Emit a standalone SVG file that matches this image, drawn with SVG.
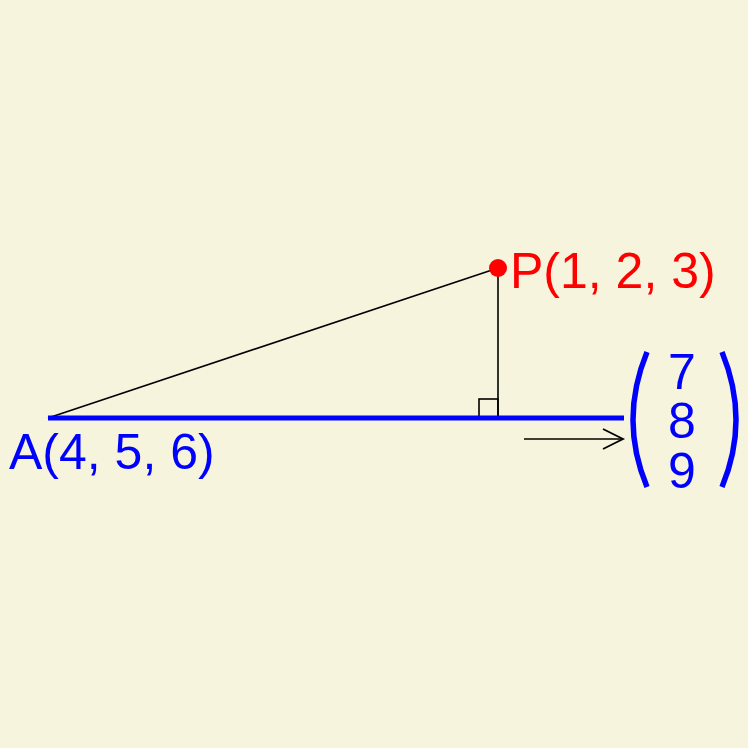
<svg xmlns="http://www.w3.org/2000/svg" width="748" height="748" viewBox="0 0 748 748">
<style>
.thin{stroke:#000;stroke-width:1.6;fill:none}
.blue{stroke:#0000ff;fill:none}
.lbl{font-family:"Liberation Sans",Arial,sans-serif;font-size:50px}
</style>
<defs>
<marker id="open" markerWidth="24" markerHeight="22" refX="21" refY="11" orient="auto" markerUnits="userSpaceOnUse">
<path d="M1,1 L21,11 L1,21" fill="none" stroke="#000" stroke-width="1.8"/>
</marker>
</defs>
<rect width="748" height="748" fill="#f6f4dc"/>
<g id="connectors">
<line class="thin" x1="48" y1="418" x2="498" y2="268"/>
<line class="thin" x1="498" y1="268" x2="498" y2="418"/>
<rect class="thin" x="479" y="399" width="19" height="19"/>
<line class="blue" x1="48" y1="418" x2="624" y2="418" stroke-width="5"/>
<line class="thin" x1="524" y1="439" x2="623" y2="439" marker-end="url(#open)"/>
</g>
<g id="node-P">
<circle cx="498" cy="268" r="9" fill="#ff0000"/>
<text class="lbl" x="510" y="288" fill="#ff0000">P(1, 2, 3)</text>
</g>
<g id="node-A">
<text class="lbl" x="9" y="469" fill="#0000ff">A(4, 5, 6)</text>
</g>
<g id="vector">
<path class="blue" d="M647,352 Q619,420 647,487" stroke-width="5.5"/>
<path class="blue" d="M722,352 Q750,420 722,487" stroke-width="5.5"/>
<text class="lbl" fill="#0000ff" text-anchor="middle"><tspan x="682" y="389">7</tspan><tspan x="682" y="438">8</tspan><tspan x="682" y="488">9</tspan></text>
</g>
</svg>
